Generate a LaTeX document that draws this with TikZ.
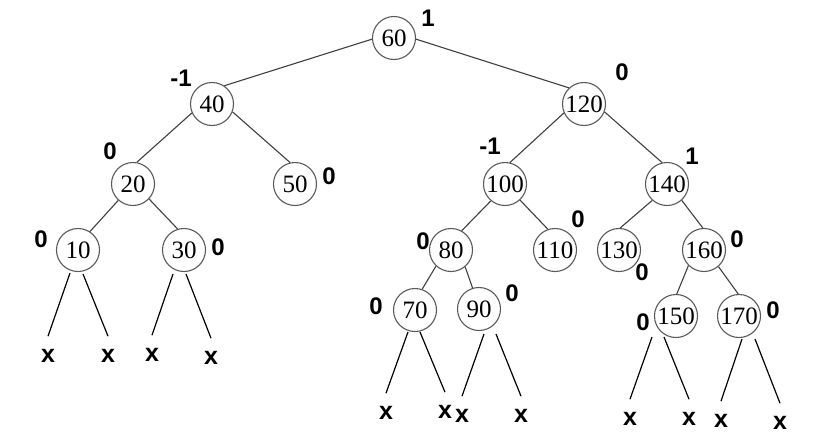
\documentclass[tikz,border=0pt]{standalone}
\usepackage{fontspec}
\setmainfont{Liberation Serif}
\newfontfamily\lblfont{Liberation Sans}
\begin{document}
\begin{tikzpicture}[x=1pt,y=-1pt,
  tn/.style={circle,draw=black!65,line width=1.1pt,minimum size=43pt,inner sep=0pt,font=\fontsize{25}{25}\selectfont},
  bal/.style={font=\lblfont\bfseries\fontsize{24}{24}\selectfont,inner sep=0pt},
  leaf/.style={font=\lblfont\bfseries\fontsize{25}{25}\selectfont,inner xsep=0pt,inner ysep=13pt},
  edge/.style={draw=black!75,line width=1.1pt},
  stub/.style={draw=black,line width=1.2pt}]
\fill[white] (0,0) rectangle (820,445);
\useasboundingbox (0,0) rectangle (820,445);
% tree nodes
\node[tn] (n60)  at (394,38)  {60};
\node[tn] (n40)  at (212,104) {40};
\node[tn] (n120) at (584,104) {120};
\node[tn] (n20)  at (133,184) {20};
\node[tn] (n50)  at (295,184) {50};
\node[tn] (n100) at (505,184) {100};
\node[tn] (n140) at (667,184) {140};
\node[tn] (n10)  at (78,250)  {10};
\node[tn] (n30)  at (184,250) {30};
\node[tn] (n80)  at (451,250) {80};
\node[tn] (n110) at (555,250) {110};
\node[tn] (n130) at (619,250) {130};
\node[tn] (n160) at (704,250) {160};
\node[tn] (n70)  at (415,310) {70};
\node[tn] (n90)  at (479,309) {90};
\node[tn] (n150) at (676,316) {150};
\node[tn] (n170) at (739,316) {170};
% balance factors
\node[bal] (b60)  at (428,18)  {1};
\node[bal] (b40)  at (181,78)  {-1};
\node[bal] (b120) at (622,72)  {0};
\node[bal] (b20)  at (110,151) {0};
\node[bal] (b50)  at (329,176) {0};
\node[bal] (b100) at (490,146) {-1};
\node[bal] (b140) at (692,156) {1};
\node[bal] (b10)  at (41,239)  {0};
\node[bal] (b30)  at (218,247) {0};
\node[bal] (b80)  at (423,241) {0};
\node[bal] (b110) at (578,219) {0};
\node[bal] (b130) at (642,272) {0};
\node[bal] (b160) at (737,239) {0};
\node[bal] (b70)  at (376,306) {0};
\node[bal] (b90)  at (512,293) {0};
\node[bal] (b150) at (643,322) {0};
\node[bal] (b170) at (773,310) {0};
% edges
\draw[edge] (n60.183) -- (n40.56);
\draw[edge] (n60.-3) -- (n120.133);
\draw[edge] (n40.204) -- (n20.80);
\draw[edge] (n40.-21) -- (n50.103);
\draw[edge] (n20.228) -- (n10.57);
\draw[edge] (n20.-43) -- (n30.107);
\draw[edge] (n120.204) -- (n100.77);
\draw[edge] (n120.-21) -- (n140.103);
\draw[edge] (n100.230) -- (n80.61);
\draw[edge] (n100.-47) -- (n110.109);
\draw[edge] (n140.228) -- (n130.87);
\draw[edge] (n140.-48) -- (n160.93);
\draw[edge] (n80.227) -- (n70.71);
\draw[edge] (n80.-50) -- (n90.107);
\draw[edge] (n160.225) -- (n150.88);
\draw[edge] (n160.-49) -- (n170.92);
% empty subtrees
\node[leaf] (x10a)  at (48,356)  {x};
\node[leaf] (x10b)  at (108,356) {x};
\node[leaf] (x30a)  at (152,355) {x};
\node[leaf] (x30b)  at (211,358) {x};
\node[leaf] (x70a)  at (386,413) {x};
\node[leaf] (x70b)  at (445,412) {x};
\node[leaf] (x90a)  at (462,416) {x};
\node[leaf] (x90b)  at (521,416) {x};
\node[leaf] (x150a) at (630,419) {x};
\node[leaf] (x150b) at (689,419) {x};
\node[leaf] (x170a) at (721,421) {x};
\node[leaf] (x170b) at (780,423) {x};
\coordinate (t10a)  at (70,273);
\coordinate (t10b)  at (83,274);
\coordinate (t30a)  at (173,274);
\coordinate (t30b)  at (186,274);
\coordinate (t70a)  at (408,332);
\coordinate (t70b)  at (420,332);
\coordinate (t90a)  at (484,334);
\coordinate (t90b)  at (496,334);
\coordinate (t150a) at (652,337);
\coordinate (t150b) at (664,337);
\coordinate (t170a) at (742,339);
\coordinate (t170b) at (755,339);
\draw[stub] (t10a) -- (x10a.north);
\draw[stub] (t10b) -- (x10b.north);
\draw[stub] (t30a) -- (x30a.north);
\draw[stub] (t30b) -- (x30b.north);
\draw[stub] (t70a) -- (x70a.north);
\draw[stub] (t70b) -- (x70b.north);
\draw[stub] (t90a) -- (x90a.north);
\draw[stub] (t90b) -- (x90b.north);
\draw[stub] (t150a) -- (x150a.north);
\draw[stub] (t150b) -- (x150b.north);
\draw[stub] (t170a) -- (x170a.north);
\draw[stub] (t170b) -- (x170b.north);
\end{tikzpicture}
\end{document}
